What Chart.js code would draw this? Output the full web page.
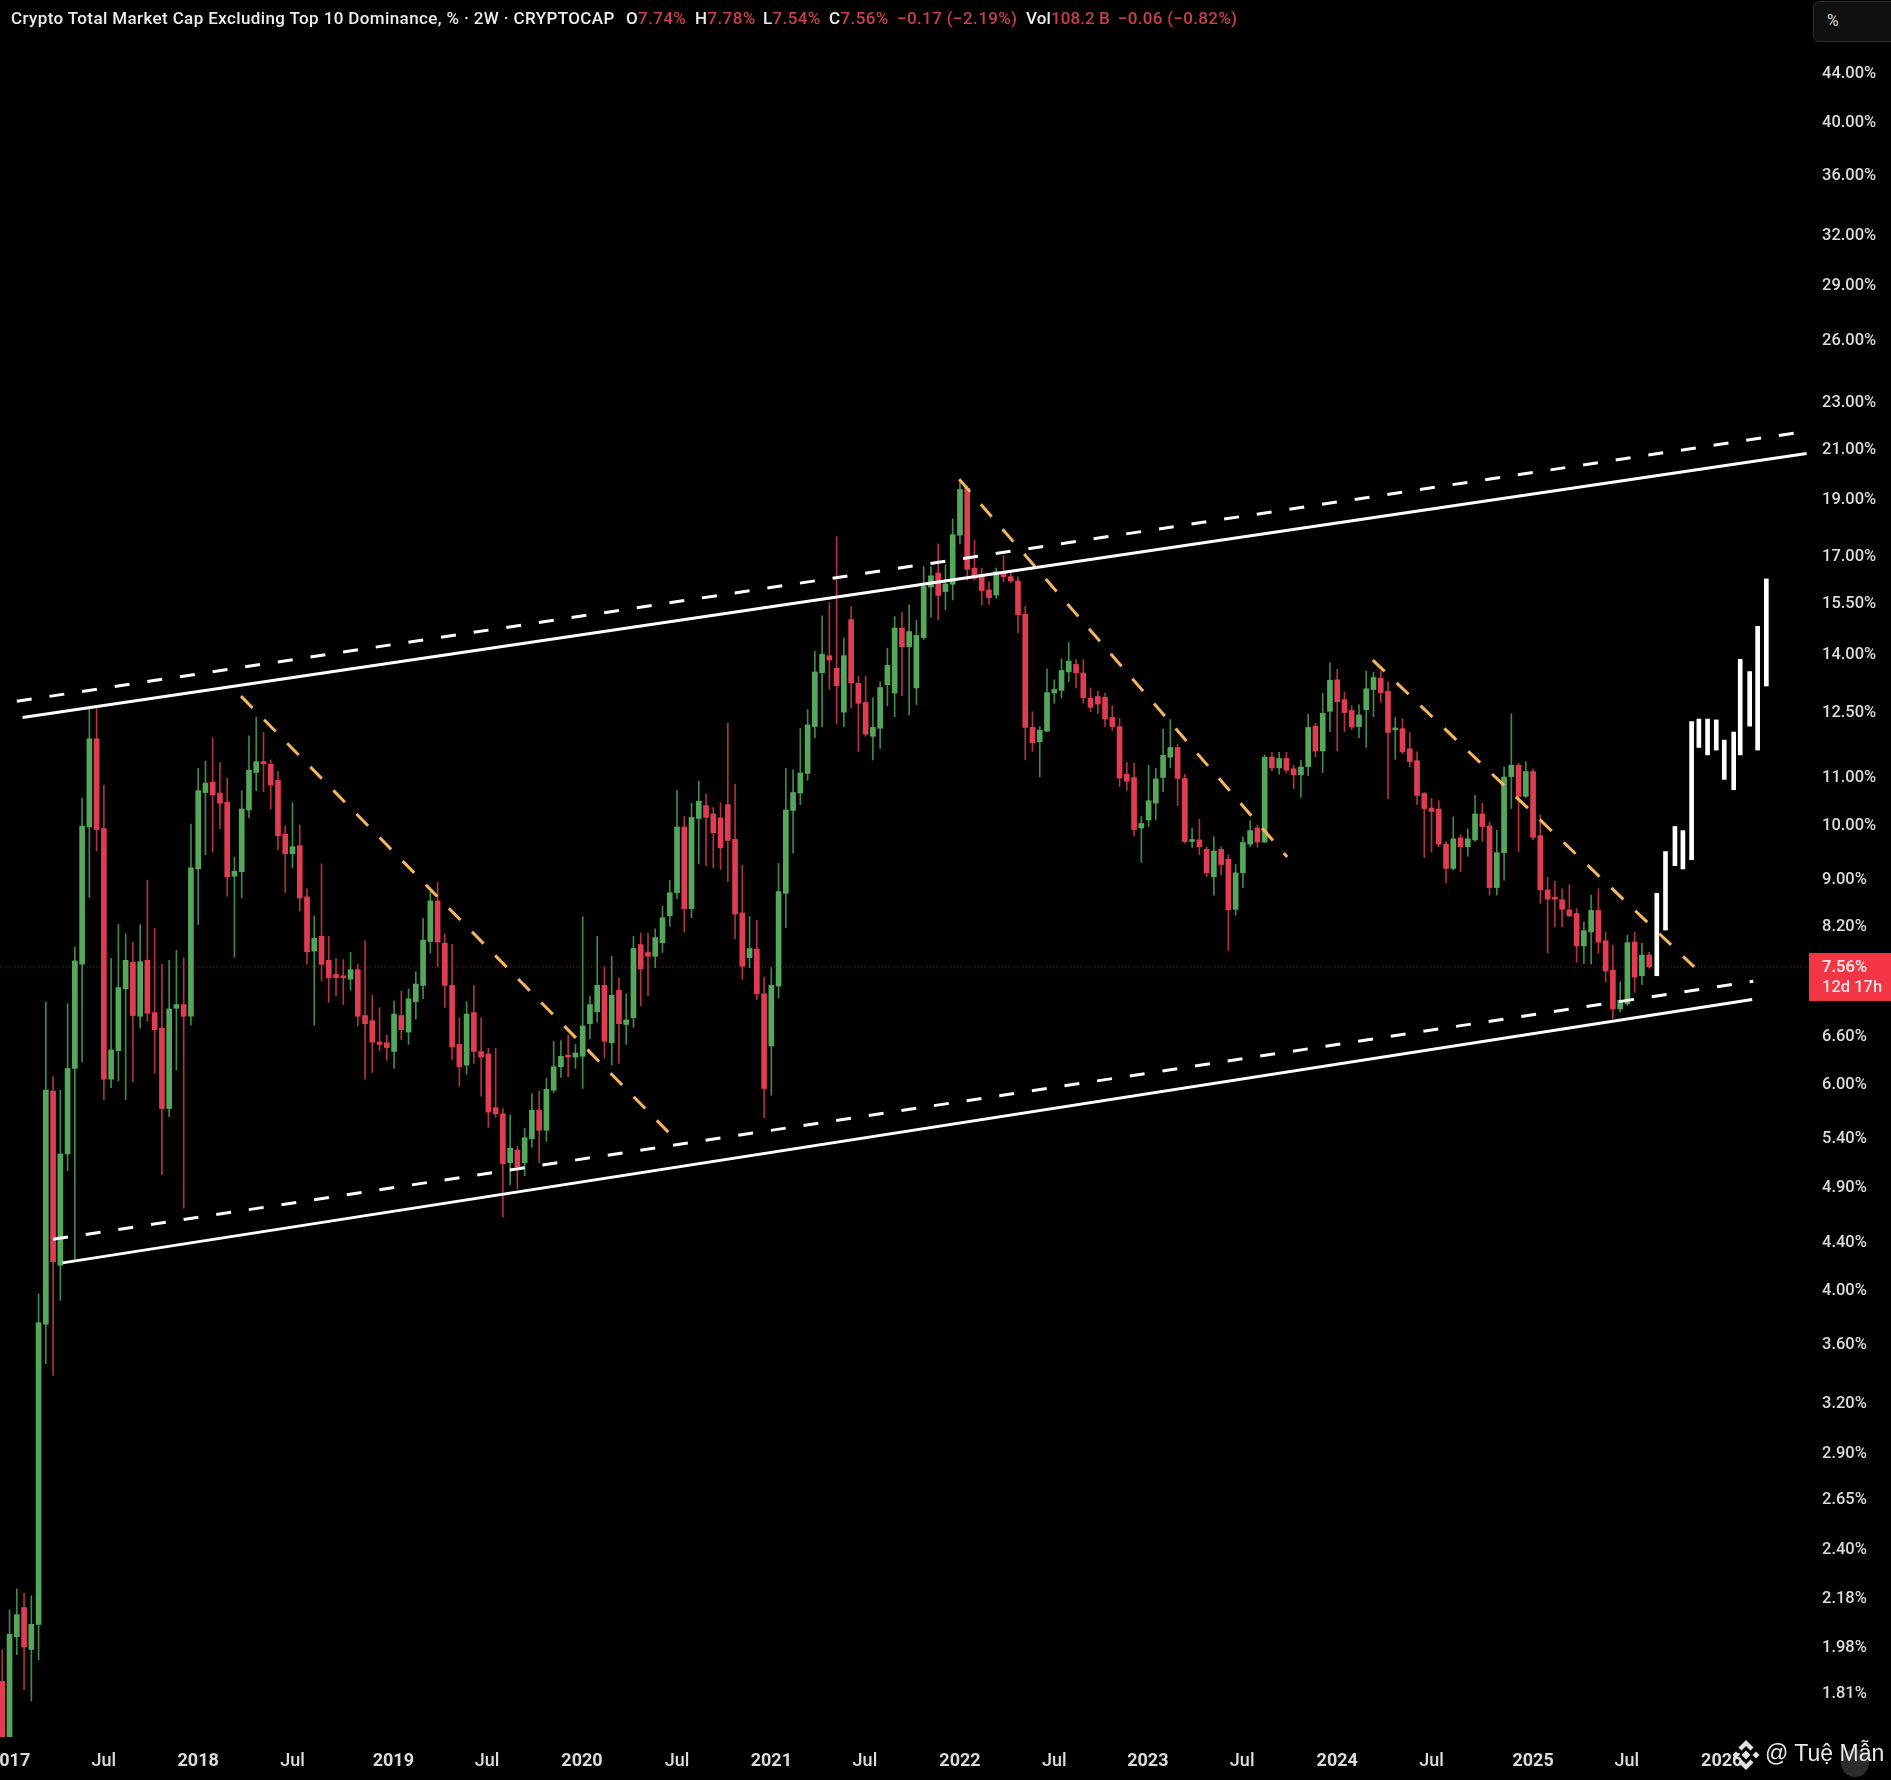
<!DOCTYPE html>
<html><head><meta charset="utf-8">
<script src="https://cdn.jsdelivr.net/npm/chart.js@4"></script>
<style>
html,body{margin:0;padding:0;background:#000;width:1891px;height:1780px;overflow:hidden}
#wrap{position:relative;width:1891px;height:1780px;background:#000}
canvas{position:absolute;left:0;top:0}
.t{position:absolute;top:8px;font:500 17px/20px Roboto,sans-serif;letter-spacing:.38px;white-space:nowrap;color:#ececec}
.r{color:#c93f4b}
#box{position:absolute;left:1813px;top:1px;width:90px;height:39px;background:#101010;border:1px solid #2e2e2e;border-radius:6px}
#pct{position:absolute;left:1827px;top:11px;font:500 16px/20px Roboto,sans-serif;color:#bdbdbd}
#wm{position:absolute;left:1765px;top:1737px;font:400 23px/32px "Liberation Sans",sans-serif;color:#e8e8e8;white-space:nowrap}
#dot{position:absolute;left:1841px;top:1749px;width:28px;height:28px;border-radius:50%;background:#2c2c2c}
#logo{position:absolute;left:1732px;top:1740px}
</style></head>
<body><div id="wrap">
<canvas id="c" width="1891" height="1780"></canvas>
<div class="t" style="left:11px">Crypto Total Market Cap Excluding Top 10 Dominance, % · 2W · CRYPTOCAP</div>
<div class="t" style="left:626px">O<span class="r">7.74%</span></div>
<div class="t" style="left:695px">H<span class="r">7.78%</span></div>
<div class="t" style="left:763px">L<span class="r">7.54%</span></div>
<div class="t" style="left:829px">C<span class="r">7.56%</span></div>
<div class="t r" style="left:897px">−0.17 (−2.19%)</div>
<div class="t" style="left:1026px;letter-spacing:.1px">Vol<span class="r">108.2 B</span></div>
<div class="t r" style="left:1118px;letter-spacing:.3px">−0.06 (−0.82%)</div>
<div id="box"></div><div id="pct">%</div>
<div id="dot"></div>
<svg id="logo" width="28" height="30" viewBox="0 0 28 30"><g fill="#e2e2e2">
<path d="M14 0 L21.5 7.5 L18.5 10.5 L14 6 L9.5 10.5 L6.5 7.5Z"/><path d="M14 30 L21.5 22.5 L18.5 19.5 L14 24 L9.5 19.5 L6.5 22.5Z"/>
<path d="M0.5 15 L4 11.5 L7.5 15 L4 18.5Z"/><path d="M27.5 15 L24 11.5 L20.5 15 L24 18.5Z"/><path d="M14 10.5 L18.5 15 L14 19.5 L9.5 15Z"/></g></svg>
<div id="wm">@ Tuệ Mẫn</div>
</div>
<script>
const openP=[
1.85,1.60,2.02,2.14,1.97,2.07,3.74,5.92,4.20,5.23,
6.19,7.60,9.96,11.85,9.93,6.06,6.41,7.24,7.63,6.86,
7.66,6.91,6.70,5.72,6.97,7.02,6.86,9.17,10.66,10.88,
10.65,10.46,9.04,9.12,10.30,11.09,11.33,11.27,10.92,9.82,
9.45,9.60,8.68,7.80,8.03,7.66,7.45,7.42,7.38,7.52,
6.87,6.80,6.52,6.51,6.40,6.87,6.65,7.06,7.29,7.95,
8.61,7.92,7.29,6.49,6.23,6.91,6.40,6.37,5.73,5.66,
5.14,5.27,5.14,5.39,5.70,5.48,5.93,6.21,6.34,6.33,
6.34,6.76,6.92,7.29,6.51,7.22,6.75,6.84,7.90,7.78,
7.72,7.93,8.36,8.75,9.96,8.48,10.13,10.39,10.22,10.14,
10.41,9.72,8.41,7.70,7.83,7.17,6.47,7.28,8.74,10.29,
10.65,11.07,12.14,13.50,13.96,13.62,12.49,14.99,13.22,12.73,
11.91,12.10,13.18,12.97,14.74,14.21,13.10,14.47,15.98,16.43,
15.84,16.07,17.70,19.41,16.59,16.37,15.89,15.73,16.47,16.31,
16.17,15.15,12.12,11.78,12.03,12.97,13.04,13.52,13.72,13.49,
12.84,12.88,12.86,12.36,12.14,11.05,10.98,9.94,10.10,10.44,
10.98,11.43,11.65,10.96,9.68,9.71,9.53,9.03,9.53,9.35,
8.47,9.10,9.63,9.94,9.67,11.43,11.19,11.40,11.17,11.04,
11.22,12.15,11.57,12.51,13.31,12.80,12.53,12.14,12.55,13.06,
13.35,13.01,12.06,12.09,11.62,11.35,10.64,10.34,10.32,9.63,
9.18,9.75,9.58,9.71,10.22,9.98,8.84,9.47,11.00,11.25,
10.58,11.11,9.79,8.80,8.65,8.63,8.46,8.40,7.88,8.10,
8.45,7.96,7.51,6.96,7.03,7.94,7.43,7.74];
const closeP=[
1.60,2.03,2.11,1.98,2.07,3.75,5.93,4.23,5.23,6.19,
7.65,9.98,11.85,9.91,6.06,6.42,7.26,7.66,6.87,7.64,
6.90,6.68,5.72,6.96,7.02,6.86,9.19,10.70,10.86,10.61,
10.44,9.03,9.13,10.32,11.14,11.33,11.28,10.82,9.79,9.45,
9.58,8.66,7.79,8.00,7.60,7.40,7.40,7.40,7.52,6.86,
6.76,6.52,6.49,6.45,6.89,6.68,7.10,7.31,7.97,8.61,
7.94,7.29,6.46,6.21,6.89,6.40,6.33,5.68,5.66,5.13,
5.29,5.10,5.40,5.70,5.48,5.94,6.21,6.34,6.33,6.38,
6.73,7.02,7.29,6.53,7.15,6.76,6.81,7.84,7.53,7.72,
8.01,8.33,8.75,9.96,8.48,10.15,10.48,10.15,9.85,9.56,
9.70,8.39,7.57,7.84,7.17,5.95,7.29,8.77,10.30,10.66,
11.08,12.18,13.52,14.00,13.84,13.16,13.96,13.23,12.71,11.96,
12.12,13.11,13.70,14.74,14.21,14.64,14.53,16.00,16.34,15.72,
16.08,17.72,19.37,16.55,16.26,15.87,15.65,16.47,16.31,16.17,
15.13,12.12,11.76,12.05,12.98,13.06,13.56,13.81,13.50,12.85,
12.61,12.69,12.32,12.14,10.97,10.90,9.91,10.03,10.49,10.95,
11.47,11.65,10.96,9.68,9.69,9.58,9.10,9.50,9.25,8.46,
9.10,9.66,9.89,9.67,11.43,11.19,11.40,11.14,11.04,11.21,
12.12,11.57,12.46,13.30,12.75,12.48,12.13,12.42,13.08,13.37,
12.98,12.00,12.08,11.55,11.33,10.60,10.33,10.27,9.63,9.18,
9.73,9.58,9.73,10.22,9.97,8.84,9.47,10.99,11.25,10.58,
11.11,9.76,8.80,8.64,8.64,8.47,8.36,7.88,8.12,8.45,
7.94,7.50,6.96,7.08,7.93,7.41,7.74,7.56];
const highP=[
1.97,2.13,2.22,2.20,2.19,3.97,7.05,6.09,5.93,7.03,
7.86,10.54,12.57,12.58,10.82,7.69,8.22,8.07,7.94,8.22,
8.97,8.16,7.60,7.66,7.81,7.70,10.02,11.18,11.34,11.87,
11.31,10.97,9.39,10.70,11.92,12.37,12.00,11.37,11.11,9.98,
10.45,10.00,8.82,8.36,9.26,8.03,7.69,7.67,7.78,7.60,
7.96,7.15,6.98,6.61,7.07,7.21,7.24,7.49,8.32,8.77,
8.93,8.07,7.90,6.84,7.06,7.29,6.84,6.44,6.44,5.72,
5.65,5.31,5.50,5.89,5.92,6.07,6.53,6.54,6.61,6.49,
8.35,7.14,8.03,7.56,7.72,7.40,7.17,8.03,8.08,8.08,
8.15,8.52,8.97,10.71,10.17,10.44,10.90,10.63,10.35,10.45,
12.22,10.84,9.24,8.35,8.29,7.41,7.55,9.27,11.18,11.15,
12.10,12.55,14.08,15.10,15.50,17.65,14.45,15.38,13.40,13.40,
12.85,13.26,14.17,15.08,15.20,15.43,14.97,16.64,16.64,17.40,
16.70,18.28,19.74,19.50,17.53,16.59,16.15,16.59,17.00,16.47,
16.31,15.38,12.50,12.14,13.60,13.31,13.87,14.33,13.85,13.85,
13.10,13.02,12.96,12.65,12.34,11.31,11.30,10.17,11.25,11.18,
12.08,12.31,11.72,11.05,9.94,10.12,9.58,9.77,9.58,9.43,
9.25,9.77,10.08,10.00,11.48,11.54,11.54,11.54,11.25,11.36,
12.44,12.22,12.96,13.77,13.59,12.99,12.65,12.67,13.55,13.51,
13.55,13.26,12.36,12.33,12.00,11.55,10.66,10.54,10.49,9.68,
10.16,9.81,9.92,10.60,10.44,10.06,9.90,11.21,12.45,11.29,
11.33,11.16,10.20,9.02,8.95,8.82,8.89,8.48,8.26,8.71,
8.82,8.10,7.89,7.34,8.05,8.10,7.92,7.78];
const lowP=[
1.60,1.60,1.95,1.82,1.78,1.93,3.46,3.38,3.92,5.06,
4.25,6.27,8.67,9.50,5.82,5.96,6.04,5.82,6.03,6.70,
6.79,6.13,5.02,5.63,6.17,4.70,6.74,8.22,9.43,9.48,
9.93,8.69,7.71,8.66,10.14,10.70,10.68,10.32,9.52,8.75,
9.19,8.44,7.60,6.74,7.36,7.05,7.14,7.02,7.22,6.73,
6.06,6.14,6.41,6.29,6.19,6.55,6.49,6.82,7.10,7.77,
7.57,6.98,6.30,5.98,6.12,6.25,5.86,5.51,5.62,4.62,
4.92,4.88,5.01,5.30,5.14,5.36,5.90,6.08,6.09,6.19,
5.95,6.56,6.78,6.32,6.23,6.25,6.49,6.71,7.00,7.14,
7.55,7.78,8.19,8.65,8.10,8.33,9.26,9.23,9.19,9.16,
8.94,7.99,7.38,7.55,7.09,5.62,5.87,7.11,8.17,9.46,
10.41,10.92,11.87,12.14,13.06,12.20,12.13,12.59,11.56,11.91,
11.37,11.63,12.65,12.38,12.90,12.42,12.67,14.41,15.06,14.98,
15.28,15.58,17.40,16.20,16.20,15.43,15.45,15.63,16.15,16.12,
14.61,11.37,11.56,10.99,12.03,12.71,12.85,13.26,13.10,12.71,
12.50,12.46,12.14,12.05,10.79,10.71,9.78,9.29,9.97,10.10,
10.68,11.19,10.39,9.65,9.57,9.43,9.03,8.71,9.06,7.81,
8.37,8.84,9.58,9.57,9.66,11.13,11.05,11.09,10.74,10.56,
11.02,11.43,11.09,12.02,11.57,12.02,12.07,11.88,11.65,12.38,
12.73,10.53,11.38,11.51,11.22,10.41,9.38,9.48,9.58,8.92,
9.15,9.12,9.40,9.68,9.68,8.71,8.71,8.97,10.33,9.49,
10.56,9.71,8.57,7.77,8.18,8.18,8.35,7.63,7.61,7.60,
7.77,7.34,6.83,6.92,7.01,7.19,7.30,7.54];
const lastPrice=7.56;
// hand-drawn projection bars
const projX=[228.05,229.25,230.55,231.65,232.85,233.85,235.05,236.25,237.35,238.65,239.55,240.85,241.95,243.15];
const projLow=[7.43,8.13,9.23,9.17,9.34,11.65,11.48,11.59,10.94,10.72,11.48,12.15,11.59,13.15];
const projHigh=[8.74,9.49,9.97,9.89,12.26,12.32,12.32,12.30,11.82,12.01,13.86,13.53,14.79,16.24];
// drawn trend lines: [x1,y1,x2,y2] in bar index and percent
const upperSolid=[2.8,12.36,248.7,20.79];
const upperDashed=[2.0,12.76,247.1,21.65];
const lowerSolid=[8.3,4.22,241.2,7.09];
const lowerDashed=[7.0,4.42,241.35,7.35];
const orangeA=[32.9,12.89,91.8,5.46];
const orangeB=[131.9,19.76,177.1,9.39];
const orangeC=[188.9,13.84,233.2,7.56];
const priceTicks=[44,40,36,32,29,26,23,21,19,17,15.5,14,12.5,11,10,9,8.2,6.6,6,5.4,4.9,4.4,4,3.6,3.2,2.9,2.65,2.4,2.18,1.98,1.81];
const timeTicks=[1,14,27,40,53.9,66.8,79.9,93,106,118.9,132,145,157.9,170.9,184,197,211,223.9,237];
const timeLabels=['2017','Jul','2018','Jul','2019','Jul','2020','Jul','2021','Jul','2022','Jul','2023','Jul','2024','Jul','2025','Jul','2026'];

const GREEN='#55a85b',RED='#e03c52',GW='#3f8a48',RW='#b0333f',ORANGE='#f4b65c';
const idx=openP.map((_,i)=>i);
const up=idx.map(i=>closeP[i]>=openP[i]);
const seg=(a,color,dash)=>({type:'line',data:[{x:a[0],y:a[1]},{x:a[2],y:a[3]}],borderColor:color,borderWidth:3,
  borderDash:dash||[],pointRadius:0,order:0,fill:false,tension:0,borderCapStyle:'butt'});

const priceTag={id:'priceTag',afterDraw(ch){
  const c=ch.ctx,y=ch.scales.y.getPixelForValue(lastPrice),x=ch.chartArea.right;
  c.save();c.fillStyle='#f23645';c.fillRect(x,y-14,82,48);
  c.fillStyle='#f6e3e3';c.textBaseline='middle';c.textAlign='left';
  c.font='600 16.5px Roboto';c.fillText(lastPrice.toFixed(2)+'%',x+13,y+1);
  c.font='500 16.5px Roboto';c.fillText('12d 17h',x+13,y+21);
  c.restore();
}};

new Chart(document.getElementById('c'),{
  type:'bar',
  data:{datasets:[
    seg(upperSolid,'#ffffff'),
    seg(upperDashed,'#ffffff',[15,18]),
    seg(lowerSolid,'#ffffff'),
    seg(lowerDashed,'#ffffff',[15,18]),
    seg(orangeA,ORANGE,[16.5,16.5]),
    seg(orangeB,ORANGE,[16.5,16.5]),
    seg(orangeC,ORANGE,[16.5,16.5]),
    {type:'bar',data:projX.map((x,i)=>({x,y:[projLow[i],projHigh[i]]})),backgroundColor:'#ffffff',barThickness:4,order:1,grouped:false,borderSkipped:false},
    {type:'bar',data:idx.map(i=>({x:i,y:[Math.min(openP[i],closeP[i]),Math.max(openP[i],closeP[i])]})),
      backgroundColor:up.map(u=>u?GREEN:RED),barThickness:5,minBarLength:2,order:2,grouped:false,borderSkipped:false},
    {type:'bar',data:idx.map(i=>({x:i,y:[lowP[i],highP[i]]})),
      backgroundColor:up.map(u=>u?GW:RW),barThickness:1,order:3,grouped:false,borderSkipped:false},
    {type:'line',data:[{x:-0.317,y:lastPrice},{x:249.03,y:lastPrice}],borderColor:'rgba(200,60,70,.6)',borderWidth:1,borderDash:[1,2],pointRadius:0,order:4}
  ]},
  options:{
    responsive:false,animation:false,devicePixelRatio:1,events:[],
    layout:{padding:0},
    plugins:{legend:{display:false},tooltip:{enabled:false},title:{display:false}},
    scales:{
      x:{type:'linear',position:'bottom',offset:false,min:-0.317,max:249.03,
        grid:{display:false,drawTicks:false,offset:false},border:{display:false},
        afterBuildTicks(s){s.ticks=timeTicks.map(v=>({value:v}));},
        afterFit(s){s.height=43;s.paddingLeft=0;s.paddingRight=0;},
        ticks:{autoSkip:false,maxRotation:0,minRotation:0,padding:14,color:'#dcdcdc',
          font:ctx=>({family:'Roboto',size:18,weight:timeLabels[ctx.index]==='Jul'?'500':'700'}),
          callback:(v,i)=>timeLabels[i]}
      },
      y:{type:'logarithmic',position:'right',min:1.658,max:50.81,
        grid:{display:false,drawTicks:false},border:{display:false},
        afterBuildTicks(s){s.ticks=priceTicks.map(v=>({value:v}));},
        afterFit(s){s.width=82;s.paddingTop=0;s.paddingBottom=0;},
        ticks:{autoSkip:false,padding:13,labelOffset:1,color:'#dcdcdc',font:{family:'Roboto',size:16.5,weight:'500'},
          callback:v=>Number(v).toFixed(2)+'%'}
      }
    }
  },
  plugins:[priceTag]
});
</script>
</body></html>
